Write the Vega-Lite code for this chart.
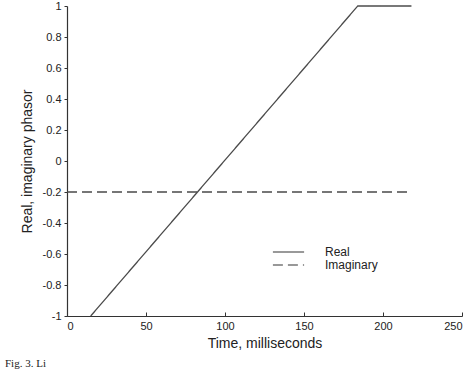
{
  "$schema": "https://vega.github.io/schema/vega-lite/v6.json",
  "width": 395,
  "height": 310,
  "autosize": "none",
  "padding": {"left": 67, "top": 6, "right": 12, "bottom": 61},
  "background": "white",
  "config": {
    "view": {"stroke": null},
    "font": "Liberation Sans",
    "axis": {"grid": false, "domainColor": "#333", "tickColor": "#333", "labelColor": "#222", "titleColor": "#222", "labelFontSize": 11, "titleFontSize": 14, "titleFontWeight": "normal", "domainWidth": 1.2}
  },
  "title": {"text": "Fig. 3.    Li", "orient": "bottom", "anchor": "start", "frame": "group", "font": "Liberation Serif", "fontSize": 11, "fontWeight": "normal", "color": "#222", "offset": 8, "dx": -62},
  "data": {
    "values": [
      {"t": 15, "v": -1, "series": "Real"},
      {"t": 184, "v": 1, "series": "Real"},
      {"t": 218, "v": 1, "series": "Real"},
      {"t": 0, "v": -0.2, "series": "Imaginary"},
      {"t": 218, "v": -0.2, "series": "Imaginary"}
    ]
  },
  "mark": {"type": "line", "strokeWidth": 1.3, "color": "#4a4a4a"},
  "encoding": {
    "x": {"field": "t", "type": "quantitative", "scale": {"domain": [0, 250], "nice": false},
      "axis": {"title": "Time, milliseconds", "values": [0, 50, 100, 150, 200, 250], "tickSize": -4, "labelPadding": 8, "titlePadding": 5, "labelExpr": "'' + datum.value"}},
    "y": {"field": "v", "type": "quantitative", "scale": {"domain": [-1, 1], "nice": false},
      "axis": {"title": "Real, imaginary phasor", "values": [-1, -0.8, -0.6, -0.4, -0.2, 0, 0.2, 0.4, 0.6, 0.8, 1], "tickSize": 3, "labelPadding": 3, "titlePadding": 8, "labelExpr": "'' + datum.value"}},
    "strokeDash": {"field": "series", "type": "nominal",
      "scale": {"domain": ["Real", "Imaginary"], "range": [[1, 0], [10, 5]]},
      "legend": {"title": null, "orient": "none", "legendX": 214.5, "legendY": 239, "symbolType": "M-2.6,0H2.6", "symbolSize": 144, "symbolStrokeColor": "#777", "symbolStrokeWidth": 1.3, "labelFontSize": 12, "labelOffset": 29.5, "rowPadding": 0, "labelColor": "#222"}}
  }
}
